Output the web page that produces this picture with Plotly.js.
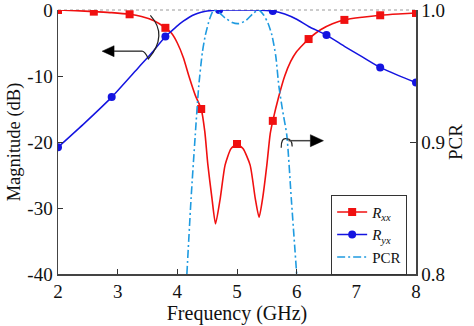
<!DOCTYPE html>
<html><head><meta charset="utf-8">
<script src="https://cdn.plot.ly/plotly-3.0.1.min.js"></script>
<style>html,body{margin:0;padding:0;background:#fff}#c{width:474px;height:326px}</style>
</head><body><div id="c"></div>
<script>
// Rxx (dB) curve
const rxxFreq = [2.0,2.3,2.6,2.9,3.2,3.4,3.6,3.8,3.9,4.0,4.1,4.2,4.3,4.4,4.46,4.51,4.58,4.64,4.72,4.8,4.9,5.0,5.1,5.22,5.305,5.37,5.43,5.5,5.556,5.6,5.7,5.8,5.9,6.0,6.1,6.2,6.4,6.6,6.8,7.1,7.4,7.7,8.0];
const rxxDb   = [0,-0.1,-0.25,-0.4,-0.65,-1.0,-1.6,-2.7,-3.5,-5.0,-7.2,-10.2,-12.9,-15.0,-18.4,-23.3,-28.5,-32.4,-28.5,-23.5,-21.0,-20.3,-21.0,-23.5,-28.5,-31.4,-28.5,-23.5,-18.8,-16.8,-13.1,-10.0,-7.8,-6.3,-5.3,-4.4,-3.0,-2.1,-1.5,-1.1,-0.8,-0.6,-0.45];
// Rxx marker points
const rxxMkFreq = [2.0,2.6,3.2,3.8,4.4,5.0,5.6,6.2,6.8,7.4,8.0];
const rxxMkDb   = [0,-0.25,-0.65,-2.7,-15.0,-20.3,-16.8,-4.4,-1.5,-0.8,-0.45];
// Ryx (dB) curve
const ryxFreq = [2.0,2.45,2.9,3.35,3.6,3.8,3.9,4.0,4.1,4.2,4.3,4.4,4.5,4.7,5.0,5.3,5.6,5.8,6.0,6.2,6.5,6.8,7.1,7.4,7.7,8.0];
const ryxDb   = [-20.8,-17.1,-13.2,-8.7,-6.2,-4.0,-3.2,-2.4,-1.7,-1.1,-0.65,-0.35,-0.15,0,0,0,-0.15,-0.6,-1.4,-2.5,-3.8,-5.5,-7.1,-8.7,-9.9,-11.0];
// Ryx marker points
const ryxMkFreq = [2.0,2.9,3.8,4.7,5.6,6.5,7.4,8.0];
const ryxMkDb   = [-20.8,-13.2,-4.0,0,-0.15,-3.8,-8.7,-11.0];
// PCR curve
const pcrFreq = [4.16,4.23,4.30,4.36,4.42,4.47,4.54,4.61,4.7,4.8,4.92,5.03,5.15,5.26,5.36,5.45,5.52,5.585,5.65,5.70,5.76,5.835,5.91,6.0];
const pcrVal  = [0.80,0.857,0.905,0.943,0.968,0.981,0.993,1.0,0.998,0.994,0.9905,0.9897,0.992,0.997,1.0,0.996,0.99,0.981,0.965,0.943,0.925,0.905,0.857,0.80];
// ticks
const xTicks = [2,3,4,5,6,7,8];
const yTicks = [0,-10,-20,-30,-40];
const yTickText = ['0','-10','-20','-30','-40'];
const y2Ticks = [1.0,0.9,0.8];
const y2TickText = ['1.0','0.9','0.8'];

const RED='#f01010', BLUE='#1414e0', LBLUE='#1f9be0';
const FONT='"Liberation Serif", "Times New Roman", serif';
const DASHDOT='8px,3px,2px,3px';

const traces = [
  {x:rxxFreq,y:rxxDb,mode:'lines',line:{color:RED,width:1.6,shape:'spline',smoothing:0.6},showlegend:false},
  {x:rxxMkFreq,y:rxxMkDb,mode:'markers',marker:{symbol:'square',size:8,color:RED},showlegend:false},
  {x:ryxFreq,y:ryxDb,mode:'lines',line:{color:BLUE,width:1.5,shape:'spline',smoothing:0.6},showlegend:false},
  {x:ryxMkFreq,y:ryxMkDb,mode:'markers',marker:{symbol:'circle',size:8,color:BLUE},showlegend:false},
  {x:pcrFreq,y:pcrVal,yaxis:'y2',mode:'lines',line:{color:LBLUE,width:1.6,dash:DASHDOT,shape:'spline',smoothing:0.6},showlegend:false},
  {x:[null],y:[null],mode:'lines+markers',name:'<i>R</i><sub><i>xx</i></sub>',line:{color:RED,width:1.6},marker:{symbol:'square',size:8,color:RED}},
  {x:[null],y:[null],mode:'lines+markers',name:'<i>R</i><sub><i>yx</i></sub>',line:{color:BLUE,width:1.5},marker:{symbol:'circle',size:8,color:BLUE}},
  {x:[null],y:[null],mode:'lines',name:'PCR',line:{color:LBLUE,width:1.6,dash:DASHDOT}}
];

const layout = {
  width:474,height:326,
  margin:{l:58,r:58,t:10,b:52,pad:0},
  paper_bgcolor:'#fff',plot_bgcolor:'#fff',
  font:{family:FONT,size:19,color:'#111'},
  showlegend:true,
  legend:{x:0.763,y:0.3,xanchor:'left',yanchor:'top',bgcolor:'#fff',bordercolor:'#333',borderwidth:1,
          font:{family:FONT,size:15,color:'#111'},tracegroupgap:0},
  xaxis:{range:[2,8],tickvals:xTicks,ticks:'inside',ticklen:5,tickcolor:'#333',showgrid:false,zeroline:false,
         showline:true,linecolor:'#444',linewidth:1.5,tickfont:{size:19},
         title:{text:'Frequency (GHz)',font:{size:20},standoff:2}},
  yaxis:{range:[-40,0],tickvals:yTicks,ticktext:yTickText,ticks:'inside',ticklen:5,tickcolor:'#333',showgrid:false,zeroline:false,
         showline:true,linecolor:'#444',linewidth:1.5,tickfont:{size:19},ticklabeloverflow:'allow',
         title:{text:'Magnitude (dB)',font:{size:18.5},standoff:2}},
  yaxis2:{range:[0.8,1.0],overlaying:'y',side:'right',tickvals:y2Ticks,ticktext:y2TickText,ticks:'inside',ticklen:6,tickcolor:'#333',
          showgrid:false,zeroline:false,showline:true,linecolor:'#444',linewidth:1.5,tickfont:{size:19},ticklabeloverflow:'allow',
          title:{text:'PCR',font:{size:19},standoff:2}},
  shapes:[
    {type:'line',xref:'paper',yref:'paper',x0:0,x1:1,y0:1,y1:1,line:{color:'#999',width:1,dash:'dot'},layer:'below'},
    // left bracket + arrow
    {type:'path',xref:'x',yref:'y',path:'M3.548,-0.8 Q3.849,-3.78 3.515,-7.41 Q3.46,-6.3 3.41,-6.24',line:{color:'#222',width:1.2}},
    {type:'line',xref:'x',yref:'y',x0:3.41,y0:-6.24,x1:2.94,y1:-6.24,line:{color:'#444',width:1.5}},
    {type:'path',xref:'x',yref:'y',path:'M2.74,-6.24 L2.94,-5.41 L2.94,-7.07 Z',fillcolor:'#000',line:{color:'#000',width:0.5}},
    // right curl + arrow
    {type:'path',xref:'x',yref:'y',path:'M5.741,-20.86 Q5.741,-19.34 5.824,-19.5 Q5.925,-19.5 5.925,-20.7',line:{color:'#222',width:1.2}},
    {type:'line',xref:'x',yref:'y',x0:5.863,y0:-19.8,x1:6.23,y1:-19.8,line:{color:'#444',width:1.5}},
    {type:'path',xref:'x',yref:'y',path:'M6.449,-19.8 L6.23,-18.89 L6.23,-20.71 Z',fillcolor:'#000',line:{color:'#000',width:0.5}}
  ]
};
Plotly.newPlot('c',traces,layout,{displayModeBar:false,staticPlot:true});
</script></body></html>
